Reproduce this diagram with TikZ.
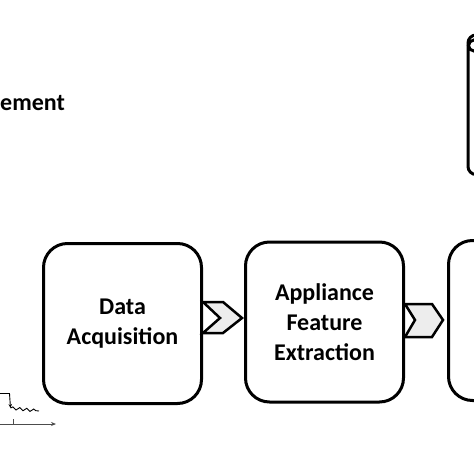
\documentclass[tikz,border=0pt]{standalone}
\usepackage{fontspec}
\setmainfont{Carlito}
\usetikzlibrary{arrows.meta,decorations.pathmorphing}
\tikzset{
  stagebox/.style={draw=black, line width=3pt, rounded corners=24pt, minimum width=158pt, minimum height=160pt, align=center, inner sep=0pt, font=\fontsize{24}{30}\selectfont\bfseries},
  chev/.style={draw=black, line width=2.5pt, fill=black!7, line join=miter},
  lbl/.style={font=\fontsize{24}{30}\selectfont\bfseries, inner sep=0pt},
  thick3/.style={line width=3pt},
}
\begin{document}
\begin{tikzpicture}[x=1pt,y=-1pt]
\useasboundingbox (0,0) rectangle (474,474);
\clip (0,0) rectangle (474,474);
% boxes
\node[stagebox] (b1) at (122.5,323.5) {Data\\Acquisition};
\node[stagebox] (b2) at (324.5,322) {Appliance\\Feature\\Extraction};
\node[stagebox] (b3) at (527.5,320.5) {};
% chevrons
\coordinate (c1) at (203,318);
\draw[chev] (c1) ++(0,-16) -- ++(20,0) -- (242,318) -- (223,333) -- (203,333) -- (220,318) -- cycle;
\coordinate (c2) at (405,320);
\draw[chev] (c2) ++(0,-16) -- ++(27,0) -- (443,320) -- (432,337) -- (405,337) -- (415,320) -- cycle;
% top-right scroll-like shape
\draw[thick3, rounded corners=8pt] (485,35) -- (468,35) -- (468,174.5) -- (485,174.5);
\draw[thick3] (474,45.5) circle[radius=5.5];
% top-left text
\node[lbl, anchor=base west] (t1) at (0,110) {ement};
% signal sketch
\coordinate (s0) at (0,393.5);
\coordinate (s1) at (9.5,393.5);
\coordinate (s2) at (10.5,408);
\coordinate (s3) at (39,411);
\draw[line width=0.9pt] (s0) -- (s1);
\draw[line width=0.9pt, -{Stealth[length=4pt,width=3.5pt]}] (s1) -- (s2);
\draw[line width=0.9pt, decorate, decoration={snake, amplitude=1.4pt, segment length=7pt}] (s2) -- (s3);
% axis
\coordinate (a0) at (0,424);
\coordinate (a1) at (56,424);
\draw[line width=0.9pt, black!70, -{Stealth[length=5pt,width=4pt]}] (a0) -- (a1);
\draw[line width=0.9pt, black!70] (13,419) -- (13,424);
\end{tikzpicture}
\end{document}
